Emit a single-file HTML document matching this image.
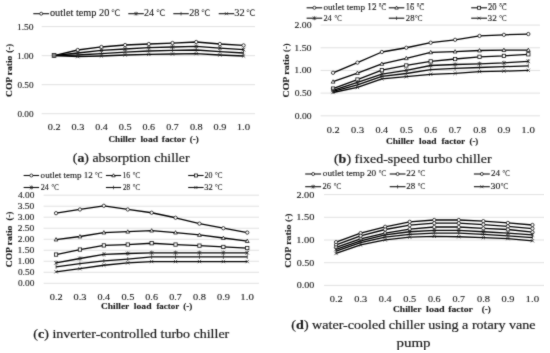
<!DOCTYPE html>
<html><head><meta charset="utf-8"><style>
html,body{margin:0;padding:0;background:#fff;}
body{width:550px;height:353px;overflow:hidden;}
svg{display:block;font-family:"Liberation Serif","Noto Serif CJK SC",serif;}
text{fill:#1a1a1a;stroke:#1a1a1a;stroke-width:0.12px;}
text.deg{fill:#222;stroke-width:0.0px;}
text.cap{stroke-width:0.2px;}
text.b{stroke-width:0.12px;}
</style></head><body>
<svg width="550" height="353" viewBox="0 0 550 353">
<defs><filter id="bl" x="0" y="0" width="100%" height="100%" color-interpolation-filters="sRGB"><feConvolveMatrix order="3" kernelMatrix="0.025 0.075 0.025 0.075 0.6 0.075 0.025 0.075 0.025" edgeMode="duplicate"/></filter></defs>
<rect width="550" height="353" fill="#fff"/>
<g filter="url(#bl)">
<line x1="41.70" y1="113.70" x2="255.00" y2="113.70" stroke="#d9d9d9" stroke-width="0.8"/>
<line x1="41.70" y1="84.67" x2="255.00" y2="84.67" stroke="#d9d9d9" stroke-width="0.8"/>
<line x1="41.70" y1="55.63" x2="255.00" y2="55.63" stroke="#d9d9d9" stroke-width="0.8"/>
<line x1="41.70" y1="26.60" x2="255.00" y2="26.60" stroke="#d9d9d9" stroke-width="0.8"/>
<polyline points="54.05,55.63 77.74,50.00 101.43,46.98 125.12,45.01 148.81,44.02 172.50,43.03 196.19,41.99 219.88,44.02 243.57,45.41" fill="none" stroke="#000" stroke-width="1.3" stroke-linejoin="round"/>
<polyline points="54.05,55.63 77.74,53.02 101.43,50.41 125.12,49.01 148.81,47.62 172.50,46.98 196.19,46.40 219.88,48.03 243.57,49.59" fill="none" stroke="#000" stroke-width="1.3" stroke-linejoin="round"/>
<polyline points="54.05,55.63 77.74,54.99 101.43,53.60 125.12,52.03 148.81,50.99 172.50,50.41 196.19,50.00 219.88,51.63 243.57,53.02" fill="none" stroke="#000" stroke-width="1.3" stroke-linejoin="round"/>
<polyline points="54.05,55.63 77.74,56.62 101.43,55.98 125.12,54.99 148.81,54.41 172.50,54.01 196.19,53.60 219.88,54.99 243.57,55.98" fill="none" stroke="#000" stroke-width="1.3" stroke-linejoin="round"/>
<circle cx="54.05" cy="55.63" r="1.65" fill="#fff" stroke="#111" stroke-width="0.8"/>
<circle cx="77.74" cy="50.00" r="1.65" fill="#fff" stroke="#111" stroke-width="0.8"/>
<circle cx="101.43" cy="46.98" r="1.65" fill="#fff" stroke="#111" stroke-width="0.8"/>
<circle cx="125.12" cy="45.01" r="1.65" fill="#fff" stroke="#111" stroke-width="0.8"/>
<circle cx="148.81" cy="44.02" r="1.65" fill="#fff" stroke="#111" stroke-width="0.8"/>
<circle cx="172.50" cy="43.03" r="1.65" fill="#fff" stroke="#111" stroke-width="0.8"/>
<circle cx="196.19" cy="41.99" r="1.65" fill="#fff" stroke="#111" stroke-width="0.8"/>
<circle cx="219.88" cy="44.02" r="1.65" fill="#fff" stroke="#111" stroke-width="0.8"/>
<circle cx="243.57" cy="45.41" r="1.65" fill="#fff" stroke="#111" stroke-width="0.8"/>
<path d="M52.23,53.82L55.86,57.45M55.86,53.82L52.23,57.45M54.05,53.46L54.05,57.81" stroke="#222" stroke-width="0.7" fill="none"/>
<path d="M75.92,51.21L79.55,54.84M79.55,51.21L75.92,54.84M77.74,50.84L77.74,55.20" stroke="#222" stroke-width="0.7" fill="none"/>
<path d="M99.62,48.59L103.25,52.22M103.25,48.59L99.62,52.22M101.43,48.23L101.43,52.59" stroke="#222" stroke-width="0.7" fill="none"/>
<path d="M123.31,47.20L126.94,50.83M126.94,47.20L123.31,50.83M125.12,46.84L125.12,51.19" stroke="#222" stroke-width="0.7" fill="none"/>
<path d="M147.00,45.81L150.62,49.44M150.62,45.81L147.00,49.44M148.81,45.44L148.81,49.80" stroke="#222" stroke-width="0.7" fill="none"/>
<path d="M170.69,45.17L174.31,48.80M174.31,45.17L170.69,48.80M172.50,44.80L172.50,49.16" stroke="#222" stroke-width="0.7" fill="none"/>
<path d="M194.38,44.59L198.00,48.22M198.00,44.59L194.38,48.22M196.19,44.22L196.19,48.58" stroke="#222" stroke-width="0.7" fill="none"/>
<path d="M218.06,46.21L221.69,49.84M221.69,46.21L218.06,49.84M219.88,45.85L219.88,50.20" stroke="#222" stroke-width="0.7" fill="none"/>
<path d="M241.75,47.78L245.38,51.41M245.38,47.78L241.75,51.41M243.57,47.42L243.57,51.77" stroke="#222" stroke-width="0.7" fill="none"/>
<path d="M54.05,53.65L54.05,57.61" stroke="#222" stroke-width="0.7" fill="none"/>
<path d="M77.74,53.01L77.74,56.97" stroke="#222" stroke-width="0.7" fill="none"/>
<path d="M101.43,51.62L101.43,55.58" stroke="#222" stroke-width="0.7" fill="none"/>
<path d="M125.12,50.05L125.12,54.01" stroke="#222" stroke-width="0.7" fill="none"/>
<path d="M148.81,49.01L148.81,52.97" stroke="#222" stroke-width="0.7" fill="none"/>
<path d="M172.50,48.43L172.50,52.39" stroke="#222" stroke-width="0.7" fill="none"/>
<path d="M196.19,48.02L196.19,51.98" stroke="#222" stroke-width="0.7" fill="none"/>
<path d="M219.88,49.65L219.88,53.61" stroke="#222" stroke-width="0.7" fill="none"/>
<path d="M243.57,51.04L243.57,55.00" stroke="#222" stroke-width="0.7" fill="none"/>
<path d="M52.40,53.98L55.70,57.28M55.70,53.98L52.40,57.28" stroke="#222" stroke-width="0.7" fill="none"/>
<path d="M76.09,54.97L79.39,58.27M79.39,54.97L76.09,58.27" stroke="#222" stroke-width="0.7" fill="none"/>
<path d="M99.78,54.33L103.08,57.63M103.08,54.33L99.78,57.63" stroke="#222" stroke-width="0.7" fill="none"/>
<path d="M123.47,53.34L126.77,56.64M126.77,53.34L123.47,56.64" stroke="#222" stroke-width="0.7" fill="none"/>
<path d="M147.16,52.76L150.46,56.06M150.46,52.76L147.16,56.06" stroke="#222" stroke-width="0.7" fill="none"/>
<path d="M170.85,52.36L174.15,55.66M174.15,52.36L170.85,55.66" stroke="#222" stroke-width="0.7" fill="none"/>
<path d="M194.54,51.95L197.84,55.25M197.84,51.95L194.54,55.25" stroke="#222" stroke-width="0.7" fill="none"/>
<path d="M218.23,53.34L221.53,56.64M221.53,53.34L218.23,56.64" stroke="#222" stroke-width="0.7" fill="none"/>
<path d="M241.92,54.33L245.22,57.63M245.22,54.33L241.92,57.63" stroke="#222" stroke-width="0.7" fill="none"/>
<rect x="52.15" y="53.45" width="3.8" height="3.8" fill="#8a8a8a" stroke="#222" stroke-width="0.7"/>
<line x1="33.30" y1="13.70" x2="49.10" y2="13.70" stroke="#111" stroke-width="1.1"/>
<circle cx="41.20" cy="13.70" r="1.50" fill="#fff" stroke="#111" stroke-width="0.8"/>
<line x1="128.30" y1="13.70" x2="143.80" y2="13.70" stroke="#111" stroke-width="1.1"/>
<path d="M134.40,12.05L137.70,15.35M137.70,12.05L134.40,15.35M136.05,11.72L136.05,15.68" stroke="#222" stroke-width="0.7" fill="none"/>
<line x1="173.30" y1="13.70" x2="188.80" y2="13.70" stroke="#111" stroke-width="1.1"/>
<path d="M181.05,11.90L181.05,15.50" stroke="#222" stroke-width="0.7" fill="none"/>
<line x1="218.70" y1="13.70" x2="234.20" y2="13.70" stroke="#111" stroke-width="1.1"/>
<path d="M224.95,12.20L227.95,15.20M227.95,12.20L224.95,15.20" stroke="#222" stroke-width="0.7" fill="none"/>
<line x1="320.60" y1="115.80" x2="540.00" y2="115.80" stroke="#d9d9d9" stroke-width="0.8"/>
<line x1="320.60" y1="93.12" x2="540.00" y2="93.12" stroke="#d9d9d9" stroke-width="0.8"/>
<line x1="320.60" y1="70.45" x2="540.00" y2="70.45" stroke="#d9d9d9" stroke-width="0.8"/>
<line x1="320.60" y1="47.78" x2="540.00" y2="47.78" stroke="#d9d9d9" stroke-width="0.8"/>
<line x1="320.60" y1="25.10" x2="540.00" y2="25.10" stroke="#d9d9d9" stroke-width="0.8"/>
<polyline points="333.05,72.79 357.46,62.60 381.87,52.00 406.28,47.75 430.69,42.72 455.10,39.80 479.51,35.91 503.92,34.82 528.33,34.04" fill="none" stroke="#000" stroke-width="1.3" stroke-linejoin="round"/>
<polyline points="333.05,81.71 357.46,73.02 381.87,63.88 406.28,58.26 430.69,52.32 455.10,51.59 479.51,50.49 503.92,50.03 528.33,50.03" fill="none" stroke="#000" stroke-width="1.3" stroke-linejoin="round"/>
<polyline points="333.05,88.59 357.46,79.52 381.87,70.22 406.28,65.46 430.69,61.38 455.10,59.02 479.51,56.80 503.92,55.89 528.33,54.31" fill="none" stroke="#000" stroke-width="1.3" stroke-linejoin="round"/>
<polyline points="333.05,90.49 357.46,82.29 381.87,74.08 406.28,70.31 430.69,65.51 455.10,64.51 479.51,63.78 503.92,62.88 528.33,61.29" fill="none" stroke="#000" stroke-width="1.3" stroke-linejoin="round"/>
<polyline points="333.05,91.31 357.46,84.78 381.87,76.35 406.28,73.49 430.69,69.54 455.10,68.41 479.51,67.50 503.92,66.69 528.33,65.82" fill="none" stroke="#000" stroke-width="1.3" stroke-linejoin="round"/>
<polyline points="333.05,92.49 357.46,87.41 381.87,78.84 406.28,76.71 430.69,74.30 455.10,73.40 479.51,71.58 503.92,71.13 528.33,70.36" fill="none" stroke="#000" stroke-width="1.3" stroke-linejoin="round"/>
<circle cx="333.05" cy="72.79" r="1.65" fill="#fff" stroke="#111" stroke-width="0.8"/>
<circle cx="357.46" cy="62.60" r="1.65" fill="#fff" stroke="#111" stroke-width="0.8"/>
<circle cx="381.87" cy="52.00" r="1.65" fill="#fff" stroke="#111" stroke-width="0.8"/>
<circle cx="406.28" cy="47.75" r="1.65" fill="#fff" stroke="#111" stroke-width="0.8"/>
<circle cx="430.69" cy="42.72" r="1.65" fill="#fff" stroke="#111" stroke-width="0.8"/>
<circle cx="455.10" cy="39.80" r="1.65" fill="#fff" stroke="#111" stroke-width="0.8"/>
<circle cx="479.51" cy="35.91" r="1.65" fill="#fff" stroke="#111" stroke-width="0.8"/>
<circle cx="503.92" cy="34.82" r="1.65" fill="#fff" stroke="#111" stroke-width="0.8"/>
<circle cx="528.33" cy="34.04" r="1.65" fill="#fff" stroke="#111" stroke-width="0.8"/>
<path d="M333.05,79.81L334.95,83.13L331.15,83.13Z" fill="#fff" stroke="#111" stroke-width="0.8"/>
<path d="M357.46,71.12L359.36,74.44L355.56,74.44Z" fill="#fff" stroke="#111" stroke-width="0.8"/>
<path d="M381.87,61.99L383.77,65.31L379.97,65.31Z" fill="#fff" stroke="#111" stroke-width="0.8"/>
<path d="M406.28,56.36L408.18,59.68L404.38,59.68Z" fill="#fff" stroke="#111" stroke-width="0.8"/>
<path d="M430.69,50.42L432.59,53.74L428.79,53.74Z" fill="#fff" stroke="#111" stroke-width="0.8"/>
<path d="M455.10,49.69L457.00,53.01L453.20,53.01Z" fill="#fff" stroke="#111" stroke-width="0.8"/>
<path d="M479.51,48.59L481.41,51.91L477.61,51.91Z" fill="#fff" stroke="#111" stroke-width="0.8"/>
<path d="M503.92,48.14L505.82,51.46L502.02,51.46Z" fill="#fff" stroke="#111" stroke-width="0.8"/>
<path d="M528.33,48.14L530.23,51.46L526.43,51.46Z" fill="#fff" stroke="#111" stroke-width="0.8"/>
<rect x="331.40" y="86.94" width="3.30" height="3.30" fill="#fff" stroke="#111" stroke-width="0.8"/>
<rect x="355.81" y="77.87" width="3.30" height="3.30" fill="#fff" stroke="#111" stroke-width="0.8"/>
<rect x="380.22" y="68.57" width="3.30" height="3.30" fill="#fff" stroke="#111" stroke-width="0.8"/>
<rect x="404.63" y="63.81" width="3.30" height="3.30" fill="#fff" stroke="#111" stroke-width="0.8"/>
<rect x="429.04" y="59.73" width="3.30" height="3.30" fill="#fff" stroke="#111" stroke-width="0.8"/>
<rect x="453.45" y="57.37" width="3.30" height="3.30" fill="#fff" stroke="#111" stroke-width="0.8"/>
<rect x="477.86" y="55.15" width="3.30" height="3.30" fill="#fff" stroke="#111" stroke-width="0.8"/>
<rect x="502.27" y="54.24" width="3.30" height="3.30" fill="#fff" stroke="#111" stroke-width="0.8"/>
<rect x="526.68" y="52.66" width="3.30" height="3.30" fill="#fff" stroke="#111" stroke-width="0.8"/>
<path d="M331.24,88.68L334.87,92.31M334.87,88.68L331.24,92.31M333.05,88.32L333.05,92.67" stroke="#222" stroke-width="0.7" fill="none"/>
<path d="M355.65,80.47L359.28,84.10M359.28,80.47L355.65,84.10M357.46,80.11L357.46,84.46" stroke="#222" stroke-width="0.7" fill="none"/>
<path d="M380.06,72.26L383.69,75.89M383.69,72.26L380.06,75.89M381.87,71.90L381.87,76.26" stroke="#222" stroke-width="0.7" fill="none"/>
<path d="M404.47,68.50L408.10,72.13M408.10,68.50L404.47,72.13M406.28,68.14L406.28,72.49" stroke="#222" stroke-width="0.7" fill="none"/>
<path d="M428.88,63.69L432.50,67.32M432.50,63.69L428.88,67.32M430.69,63.33L430.69,67.68" stroke="#222" stroke-width="0.7" fill="none"/>
<path d="M453.29,62.69L456.92,66.32M456.92,62.69L453.29,66.32M455.10,62.33L455.10,66.69" stroke="#222" stroke-width="0.7" fill="none"/>
<path d="M477.69,61.97L481.32,65.60M481.32,61.97L477.69,65.60M479.51,61.61L479.51,65.96" stroke="#222" stroke-width="0.7" fill="none"/>
<path d="M502.11,61.06L505.74,64.69M505.74,61.06L502.11,64.69M503.92,60.70L503.92,65.05" stroke="#222" stroke-width="0.7" fill="none"/>
<path d="M526.51,59.47L530.15,63.10M530.15,59.47L526.51,63.10M528.33,59.11L528.33,63.47" stroke="#222" stroke-width="0.7" fill="none"/>
<path d="M333.05,89.33L333.05,93.29" stroke="#222" stroke-width="0.7" fill="none"/>
<path d="M357.46,82.80L357.46,86.76" stroke="#222" stroke-width="0.7" fill="none"/>
<path d="M381.87,74.37L381.87,78.33" stroke="#222" stroke-width="0.7" fill="none"/>
<path d="M406.28,71.51L406.28,75.47" stroke="#222" stroke-width="0.7" fill="none"/>
<path d="M430.69,67.56L430.69,71.52" stroke="#222" stroke-width="0.7" fill="none"/>
<path d="M455.10,66.43L455.10,70.39" stroke="#222" stroke-width="0.7" fill="none"/>
<path d="M479.51,65.52L479.51,69.48" stroke="#222" stroke-width="0.7" fill="none"/>
<path d="M503.92,64.71L503.92,68.67" stroke="#222" stroke-width="0.7" fill="none"/>
<path d="M528.33,63.84L528.33,67.80" stroke="#222" stroke-width="0.7" fill="none"/>
<path d="M331.40,90.84L334.70,94.14M334.70,90.84L331.40,94.14" stroke="#222" stroke-width="0.7" fill="none"/>
<path d="M355.81,85.76L359.11,89.06M359.11,85.76L355.81,89.06" stroke="#222" stroke-width="0.7" fill="none"/>
<path d="M380.22,77.19L383.52,80.49M383.52,77.19L380.22,80.49" stroke="#222" stroke-width="0.7" fill="none"/>
<path d="M404.63,75.06L407.93,78.36M407.93,75.06L404.63,78.36" stroke="#222" stroke-width="0.7" fill="none"/>
<path d="M429.04,72.65L432.34,75.95M432.34,72.65L429.04,75.95" stroke="#222" stroke-width="0.7" fill="none"/>
<path d="M453.45,71.75L456.75,75.05M456.75,71.75L453.45,75.05" stroke="#222" stroke-width="0.7" fill="none"/>
<path d="M477.86,69.93L481.16,73.23M481.16,69.93L477.86,73.23" stroke="#222" stroke-width="0.7" fill="none"/>
<path d="M502.27,69.48L505.57,72.78M505.57,69.48L502.27,72.78" stroke="#222" stroke-width="0.7" fill="none"/>
<path d="M526.68,68.71L529.98,72.01M529.98,68.71L526.68,72.01" stroke="#222" stroke-width="0.7" fill="none"/>
<line x1="306.60" y1="7.80" x2="322.20" y2="7.80" stroke="#111" stroke-width="1.1"/>
<circle cx="314.40" cy="7.80" r="1.50" fill="#fff" stroke="#111" stroke-width="0.8"/>
<line x1="388.80" y1="7.80" x2="404.30" y2="7.80" stroke="#111" stroke-width="1.1"/>
<path d="M396.55,6.08L398.28,9.09L394.82,9.09Z" fill="#fff" stroke="#111" stroke-width="0.8"/>
<line x1="471.20" y1="7.80" x2="487.00" y2="7.80" stroke="#111" stroke-width="1.1"/>
<rect x="477.60" y="6.30" width="3.00" height="3.00" fill="#fff" stroke="#111" stroke-width="0.8"/>
<line x1="306.60" y1="18.20" x2="322.20" y2="18.20" stroke="#111" stroke-width="1.1"/>
<path d="M312.75,16.55L316.05,19.85M316.05,16.55L312.75,19.85M314.40,16.22L314.40,20.18" stroke="#222" stroke-width="0.7" fill="none"/>
<line x1="388.80" y1="18.20" x2="404.30" y2="18.20" stroke="#111" stroke-width="1.1"/>
<path d="M396.55,16.40L396.55,20.00" stroke="#222" stroke-width="0.7" fill="none"/>
<line x1="471.20" y1="18.20" x2="487.00" y2="18.20" stroke="#111" stroke-width="1.1"/>
<path d="M477.60,16.70L480.60,19.70M480.60,16.70L477.60,19.70" stroke="#222" stroke-width="0.7" fill="none"/>
<line x1="43.60" y1="283.30" x2="259.00" y2="283.30" stroke="#d9d9d9" stroke-width="0.8"/>
<line x1="43.60" y1="272.29" x2="259.00" y2="272.29" stroke="#d9d9d9" stroke-width="0.8"/>
<line x1="43.60" y1="261.27" x2="259.00" y2="261.27" stroke="#d9d9d9" stroke-width="0.8"/>
<line x1="43.60" y1="250.26" x2="259.00" y2="250.26" stroke="#d9d9d9" stroke-width="0.8"/>
<line x1="43.60" y1="239.25" x2="259.00" y2="239.25" stroke="#d9d9d9" stroke-width="0.8"/>
<line x1="43.60" y1="228.24" x2="259.00" y2="228.24" stroke="#d9d9d9" stroke-width="0.8"/>
<line x1="43.60" y1="217.22" x2="259.00" y2="217.22" stroke="#d9d9d9" stroke-width="0.8"/>
<line x1="43.60" y1="206.21" x2="259.00" y2="206.21" stroke="#d9d9d9" stroke-width="0.8"/>
<line x1="43.60" y1="195.20" x2="259.00" y2="195.20" stroke="#d9d9d9" stroke-width="0.8"/>
<polyline points="56.05,213.19 79.95,209.48 103.85,205.78 127.75,209.48 151.65,212.75 175.55,217.76 199.45,223.64 223.35,228.22 247.25,232.57" fill="none" stroke="#000" stroke-width="1.3" stroke-linejoin="round"/>
<polyline points="56.05,239.54 79.95,236.49 103.85,232.57 127.75,231.70 151.65,230.61 175.55,232.57 199.45,234.97 223.35,238.01 247.25,241.06" fill="none" stroke="#000" stroke-width="1.3" stroke-linejoin="round"/>
<polyline points="56.05,254.57 79.95,249.56 103.85,245.42 127.75,244.55 151.65,243.24 175.55,244.55 199.45,245.64 223.35,246.95 247.25,248.03" fill="none" stroke="#000" stroke-width="1.3" stroke-linejoin="round"/>
<polyline points="56.05,262.85 79.95,258.49 103.85,254.35 127.75,253.48 151.65,252.83 175.55,252.83 199.45,252.83 223.35,252.83 247.25,252.83" fill="none" stroke="#000" stroke-width="1.3" stroke-linejoin="round"/>
<polyline points="56.05,266.77 79.95,263.72 103.85,260.89 127.75,259.07 151.65,256.96 175.55,256.96 199.45,256.96 223.35,256.96 247.25,256.96" fill="none" stroke="#000" stroke-width="1.3" stroke-linejoin="round"/>
<polyline points="56.05,271.77 79.95,268.73 103.85,265.24 127.75,262.85 151.65,261.54 175.55,261.54 199.45,261.54 223.35,261.54 247.25,261.54" fill="none" stroke="#000" stroke-width="1.3" stroke-linejoin="round"/>
<circle cx="56.05" cy="213.19" r="1.65" fill="#fff" stroke="#111" stroke-width="0.8"/>
<circle cx="79.95" cy="209.48" r="1.65" fill="#fff" stroke="#111" stroke-width="0.8"/>
<circle cx="103.85" cy="205.78" r="1.65" fill="#fff" stroke="#111" stroke-width="0.8"/>
<circle cx="127.75" cy="209.48" r="1.65" fill="#fff" stroke="#111" stroke-width="0.8"/>
<circle cx="151.65" cy="212.75" r="1.65" fill="#fff" stroke="#111" stroke-width="0.8"/>
<circle cx="175.55" cy="217.76" r="1.65" fill="#fff" stroke="#111" stroke-width="0.8"/>
<circle cx="199.45" cy="223.64" r="1.65" fill="#fff" stroke="#111" stroke-width="0.8"/>
<circle cx="223.35" cy="228.22" r="1.65" fill="#fff" stroke="#111" stroke-width="0.8"/>
<circle cx="247.25" cy="232.57" r="1.65" fill="#fff" stroke="#111" stroke-width="0.8"/>
<path d="M56.05,237.64L57.95,240.96L54.15,240.96Z" fill="#fff" stroke="#111" stroke-width="0.8"/>
<path d="M79.95,234.59L81.85,237.91L78.05,237.91Z" fill="#fff" stroke="#111" stroke-width="0.8"/>
<path d="M103.85,230.67L105.75,233.99L101.95,233.99Z" fill="#fff" stroke="#111" stroke-width="0.8"/>
<path d="M127.75,229.80L129.65,233.12L125.85,233.12Z" fill="#fff" stroke="#111" stroke-width="0.8"/>
<path d="M151.65,228.71L153.55,232.03L149.75,232.03Z" fill="#fff" stroke="#111" stroke-width="0.8"/>
<path d="M175.55,230.67L177.45,233.99L173.65,233.99Z" fill="#fff" stroke="#111" stroke-width="0.8"/>
<path d="M199.45,233.07L201.35,236.39L197.55,236.39Z" fill="#fff" stroke="#111" stroke-width="0.8"/>
<path d="M223.35,236.12L225.25,239.44L221.45,239.44Z" fill="#fff" stroke="#111" stroke-width="0.8"/>
<path d="M247.25,239.17L249.15,242.49L245.35,242.49Z" fill="#fff" stroke="#111" stroke-width="0.8"/>
<rect x="54.40" y="252.92" width="3.30" height="3.30" fill="#fff" stroke="#111" stroke-width="0.8"/>
<rect x="78.30" y="247.91" width="3.30" height="3.30" fill="#fff" stroke="#111" stroke-width="0.8"/>
<rect x="102.20" y="243.77" width="3.30" height="3.30" fill="#fff" stroke="#111" stroke-width="0.8"/>
<rect x="126.10" y="242.90" width="3.30" height="3.30" fill="#fff" stroke="#111" stroke-width="0.8"/>
<rect x="150.00" y="241.59" width="3.30" height="3.30" fill="#fff" stroke="#111" stroke-width="0.8"/>
<rect x="173.90" y="242.90" width="3.30" height="3.30" fill="#fff" stroke="#111" stroke-width="0.8"/>
<rect x="197.80" y="243.99" width="3.30" height="3.30" fill="#fff" stroke="#111" stroke-width="0.8"/>
<rect x="221.70" y="245.30" width="3.30" height="3.30" fill="#fff" stroke="#111" stroke-width="0.8"/>
<rect x="245.60" y="246.38" width="3.30" height="3.30" fill="#fff" stroke="#111" stroke-width="0.8"/>
<path d="M54.23,261.03L57.86,264.66M57.86,261.03L54.23,264.66M56.05,260.67L56.05,265.02" stroke="#222" stroke-width="0.7" fill="none"/>
<path d="M78.13,256.67L81.76,260.30M81.76,256.67L78.13,260.30M79.95,256.31L79.95,260.67" stroke="#222" stroke-width="0.7" fill="none"/>
<path d="M102.03,252.54L105.66,256.17M105.66,252.54L102.03,256.17M103.85,252.17L103.85,256.53" stroke="#222" stroke-width="0.7" fill="none"/>
<path d="M125.93,251.66L129.56,255.29M129.56,251.66L125.93,255.29M127.75,251.30L127.75,255.66" stroke="#222" stroke-width="0.7" fill="none"/>
<path d="M149.83,251.01L153.46,254.64M153.46,251.01L149.83,254.64M151.65,250.65L151.65,255.00" stroke="#222" stroke-width="0.7" fill="none"/>
<path d="M173.74,251.01L177.37,254.64M177.37,251.01L173.74,254.64M175.55,250.65L175.55,255.00" stroke="#222" stroke-width="0.7" fill="none"/>
<path d="M197.63,251.01L201.26,254.64M201.26,251.01L197.63,254.64M199.45,250.65L199.45,255.00" stroke="#222" stroke-width="0.7" fill="none"/>
<path d="M221.53,251.01L225.16,254.64M225.16,251.01L221.53,254.64M223.35,250.65L223.35,255.00" stroke="#222" stroke-width="0.7" fill="none"/>
<path d="M245.44,251.01L249.06,254.64M249.06,251.01L245.44,254.64M247.25,250.65L247.25,255.00" stroke="#222" stroke-width="0.7" fill="none"/>
<path d="M56.05,264.79L56.05,268.75" stroke="#222" stroke-width="0.7" fill="none"/>
<path d="M79.95,261.74L79.95,265.70" stroke="#222" stroke-width="0.7" fill="none"/>
<path d="M103.85,258.91L103.85,262.87" stroke="#222" stroke-width="0.7" fill="none"/>
<path d="M127.75,257.09L127.75,261.05" stroke="#222" stroke-width="0.7" fill="none"/>
<path d="M151.65,254.98L151.65,258.94" stroke="#222" stroke-width="0.7" fill="none"/>
<path d="M175.55,254.98L175.55,258.94" stroke="#222" stroke-width="0.7" fill="none"/>
<path d="M199.45,254.98L199.45,258.94" stroke="#222" stroke-width="0.7" fill="none"/>
<path d="M223.35,254.98L223.35,258.94" stroke="#222" stroke-width="0.7" fill="none"/>
<path d="M247.25,254.98L247.25,258.94" stroke="#222" stroke-width="0.7" fill="none"/>
<path d="M54.40,270.12L57.70,273.42M57.70,270.12L54.40,273.42" stroke="#222" stroke-width="0.7" fill="none"/>
<path d="M78.30,267.08L81.60,270.38M81.60,267.08L78.30,270.38" stroke="#222" stroke-width="0.7" fill="none"/>
<path d="M102.20,263.59L105.50,266.89M105.50,263.59L102.20,266.89" stroke="#222" stroke-width="0.7" fill="none"/>
<path d="M126.10,261.20L129.40,264.50M129.40,261.20L126.10,264.50" stroke="#222" stroke-width="0.7" fill="none"/>
<path d="M150.00,259.89L153.30,263.19M153.30,259.89L150.00,263.19" stroke="#222" stroke-width="0.7" fill="none"/>
<path d="M173.90,259.89L177.20,263.19M177.20,259.89L173.90,263.19" stroke="#222" stroke-width="0.7" fill="none"/>
<path d="M197.80,259.89L201.10,263.19M201.10,259.89L197.80,263.19" stroke="#222" stroke-width="0.7" fill="none"/>
<path d="M221.70,259.89L225.00,263.19M225.00,259.89L221.70,263.19" stroke="#222" stroke-width="0.7" fill="none"/>
<path d="M245.60,259.89L248.90,263.19M248.90,259.89L245.60,263.19" stroke="#222" stroke-width="0.7" fill="none"/>
<line x1="23.60" y1="175.50" x2="39.10" y2="175.50" stroke="#111" stroke-width="1.1"/>
<circle cx="31.35" cy="175.50" r="1.50" fill="#fff" stroke="#111" stroke-width="0.8"/>
<line x1="105.90" y1="175.50" x2="121.10" y2="175.50" stroke="#111" stroke-width="1.1"/>
<path d="M113.50,173.78L115.22,176.79L111.78,176.79Z" fill="#fff" stroke="#111" stroke-width="0.8"/>
<line x1="188.20" y1="175.50" x2="203.60" y2="175.50" stroke="#111" stroke-width="1.1"/>
<rect x="194.40" y="174.00" width="3.00" height="3.00" fill="#fff" stroke="#111" stroke-width="0.8"/>
<line x1="23.60" y1="187.50" x2="39.10" y2="187.50" stroke="#111" stroke-width="1.1"/>
<path d="M29.70,185.85L33.00,189.15M33.00,185.85L29.70,189.15M31.35,185.52L31.35,189.48" stroke="#222" stroke-width="0.7" fill="none"/>
<line x1="105.90" y1="187.50" x2="121.10" y2="187.50" stroke="#111" stroke-width="1.1"/>
<path d="M113.50,185.70L113.50,189.30" stroke="#222" stroke-width="0.7" fill="none"/>
<line x1="188.20" y1="187.50" x2="203.60" y2="187.50" stroke="#111" stroke-width="1.1"/>
<path d="M194.40,186.00L197.40,189.00M197.40,186.00L194.40,189.00" stroke="#222" stroke-width="0.7" fill="none"/>
<line x1="324.00" y1="285.40" x2="544.00" y2="285.40" stroke="#d9d9d9" stroke-width="0.8"/>
<line x1="324.00" y1="262.70" x2="544.00" y2="262.70" stroke="#d9d9d9" stroke-width="0.8"/>
<line x1="324.00" y1="240.00" x2="544.00" y2="240.00" stroke="#d9d9d9" stroke-width="0.8"/>
<line x1="324.00" y1="217.30" x2="544.00" y2="217.30" stroke="#d9d9d9" stroke-width="0.8"/>
<line x1="324.00" y1="194.60" x2="544.00" y2="194.60" stroke="#d9d9d9" stroke-width="0.8"/>
<polyline points="336.05,242.16 360.60,233.12 385.15,226.79 409.70,221.82 434.25,220.01 458.80,220.01 483.35,221.14 507.90,222.94 532.45,224.98" fill="none" stroke="#000" stroke-width="1.3" stroke-linejoin="round"/>
<polyline points="336.05,244.87 360.60,235.83 385.15,229.50 409.70,225.20 434.25,223.17 458.80,223.17 483.35,224.53 507.90,226.33 532.45,228.60" fill="none" stroke="#000" stroke-width="1.3" stroke-linejoin="round"/>
<polyline points="336.05,247.35 360.60,238.99 385.15,233.12 409.70,229.05 434.25,227.02 458.80,227.02 483.35,228.37 507.90,229.50 532.45,232.21" fill="none" stroke="#000" stroke-width="1.3" stroke-linejoin="round"/>
<polyline points="336.05,249.39 360.60,240.80 385.15,234.92 409.70,231.76 434.25,230.40 458.80,230.40 483.35,231.76 507.90,233.12 532.45,234.92" fill="none" stroke="#000" stroke-width="1.3" stroke-linejoin="round"/>
<polyline points="336.05,251.20 360.60,242.61 385.15,237.19 409.70,234.47 434.25,233.12 458.80,233.12 483.35,234.47 507.90,235.83 532.45,237.63" fill="none" stroke="#000" stroke-width="1.3" stroke-linejoin="round"/>
<polyline points="336.05,253.46 360.60,244.87 385.15,239.90 409.70,237.19 434.25,236.28 458.80,236.73 483.35,237.63 507.90,238.54 532.45,240.80" fill="none" stroke="#000" stroke-width="1.3" stroke-linejoin="round"/>
<circle cx="336.05" cy="242.16" r="1.65" fill="#fff" stroke="#111" stroke-width="0.8"/>
<circle cx="360.60" cy="233.12" r="1.65" fill="#fff" stroke="#111" stroke-width="0.8"/>
<circle cx="385.15" cy="226.79" r="1.65" fill="#fff" stroke="#111" stroke-width="0.8"/>
<circle cx="409.70" cy="221.82" r="1.65" fill="#fff" stroke="#111" stroke-width="0.8"/>
<circle cx="434.25" cy="220.01" r="1.65" fill="#fff" stroke="#111" stroke-width="0.8"/>
<circle cx="458.80" cy="220.01" r="1.65" fill="#fff" stroke="#111" stroke-width="0.8"/>
<circle cx="483.35" cy="221.14" r="1.65" fill="#fff" stroke="#111" stroke-width="0.8"/>
<circle cx="507.90" cy="222.94" r="1.65" fill="#fff" stroke="#111" stroke-width="0.8"/>
<circle cx="532.45" cy="224.98" r="1.65" fill="#fff" stroke="#111" stroke-width="0.8"/>
<circle cx="336.05" cy="244.87" r="1.65" fill="#fff" stroke="#111" stroke-width="0.8"/>
<circle cx="360.60" cy="235.83" r="1.65" fill="#fff" stroke="#111" stroke-width="0.8"/>
<circle cx="385.15" cy="229.50" r="1.65" fill="#fff" stroke="#111" stroke-width="0.8"/>
<circle cx="409.70" cy="225.20" r="1.65" fill="#fff" stroke="#111" stroke-width="0.8"/>
<circle cx="434.25" cy="223.17" r="1.65" fill="#fff" stroke="#111" stroke-width="0.8"/>
<circle cx="458.80" cy="223.17" r="1.65" fill="#fff" stroke="#111" stroke-width="0.8"/>
<circle cx="483.35" cy="224.53" r="1.65" fill="#fff" stroke="#111" stroke-width="0.8"/>
<circle cx="507.90" cy="226.33" r="1.65" fill="#fff" stroke="#111" stroke-width="0.8"/>
<circle cx="532.45" cy="228.60" r="1.65" fill="#fff" stroke="#111" stroke-width="0.8"/>
<circle cx="336.05" cy="247.35" r="1.65" fill="#fff" stroke="#111" stroke-width="0.8"/>
<circle cx="360.60" cy="238.99" r="1.65" fill="#fff" stroke="#111" stroke-width="0.8"/>
<circle cx="385.15" cy="233.12" r="1.65" fill="#fff" stroke="#111" stroke-width="0.8"/>
<circle cx="409.70" cy="229.05" r="1.65" fill="#fff" stroke="#111" stroke-width="0.8"/>
<circle cx="434.25" cy="227.02" r="1.65" fill="#fff" stroke="#111" stroke-width="0.8"/>
<circle cx="458.80" cy="227.02" r="1.65" fill="#fff" stroke="#111" stroke-width="0.8"/>
<circle cx="483.35" cy="228.37" r="1.65" fill="#fff" stroke="#111" stroke-width="0.8"/>
<circle cx="507.90" cy="229.50" r="1.65" fill="#fff" stroke="#111" stroke-width="0.8"/>
<circle cx="532.45" cy="232.21" r="1.65" fill="#fff" stroke="#111" stroke-width="0.8"/>
<path d="M334.24,247.57L337.87,251.20M337.87,247.57L334.24,251.20M336.05,247.21L336.05,251.57" stroke="#222" stroke-width="0.7" fill="none"/>
<path d="M358.79,238.98L362.42,242.61M362.42,238.98L358.79,242.61M360.60,238.62L360.60,242.98" stroke="#222" stroke-width="0.7" fill="none"/>
<path d="M383.34,233.11L386.97,236.74M386.97,233.11L383.34,236.74M385.15,232.75L385.15,237.10" stroke="#222" stroke-width="0.7" fill="none"/>
<path d="M407.89,229.94L411.52,233.57M411.52,229.94L407.89,233.57M409.70,229.58L409.70,233.94" stroke="#222" stroke-width="0.7" fill="none"/>
<path d="M432.44,228.59L436.06,232.22M436.06,228.59L432.44,232.22M434.25,228.22L434.25,232.58" stroke="#222" stroke-width="0.7" fill="none"/>
<path d="M456.99,228.59L460.62,232.22M460.62,228.59L456.99,232.22M458.80,228.22L458.80,232.58" stroke="#222" stroke-width="0.7" fill="none"/>
<path d="M481.54,229.94L485.17,233.57M485.17,229.94L481.54,233.57M483.35,229.58L483.35,233.94" stroke="#222" stroke-width="0.7" fill="none"/>
<path d="M506.08,231.30L509.71,234.93M509.71,231.30L506.08,234.93M507.90,230.94L507.90,235.30" stroke="#222" stroke-width="0.7" fill="none"/>
<path d="M530.63,233.11L534.27,236.74M534.27,233.11L530.63,236.74M532.45,232.75L532.45,237.10" stroke="#222" stroke-width="0.7" fill="none"/>
<path d="M336.05,249.22L336.05,253.18" stroke="#222" stroke-width="0.7" fill="none"/>
<path d="M360.60,240.63L360.60,244.59" stroke="#222" stroke-width="0.7" fill="none"/>
<path d="M385.15,235.21L385.15,239.17" stroke="#222" stroke-width="0.7" fill="none"/>
<path d="M409.70,232.49L409.70,236.45" stroke="#222" stroke-width="0.7" fill="none"/>
<path d="M434.25,231.14L434.25,235.10" stroke="#222" stroke-width="0.7" fill="none"/>
<path d="M458.80,231.14L458.80,235.10" stroke="#222" stroke-width="0.7" fill="none"/>
<path d="M483.35,232.49L483.35,236.45" stroke="#222" stroke-width="0.7" fill="none"/>
<path d="M507.90,233.85L507.90,237.81" stroke="#222" stroke-width="0.7" fill="none"/>
<path d="M532.45,235.65L532.45,239.61" stroke="#222" stroke-width="0.7" fill="none"/>
<path d="M334.40,251.81L337.70,255.11M337.70,251.81L334.40,255.11" stroke="#222" stroke-width="0.7" fill="none"/>
<path d="M358.95,243.22L362.25,246.52M362.25,243.22L358.95,246.52" stroke="#222" stroke-width="0.7" fill="none"/>
<path d="M383.50,238.25L386.80,241.55M386.80,238.25L383.50,241.55" stroke="#222" stroke-width="0.7" fill="none"/>
<path d="M408.05,235.54L411.35,238.84M411.35,235.54L408.05,238.84" stroke="#222" stroke-width="0.7" fill="none"/>
<path d="M432.60,234.63L435.90,237.93M435.90,234.63L432.60,237.93" stroke="#222" stroke-width="0.7" fill="none"/>
<path d="M457.15,235.08L460.45,238.38M460.45,235.08L457.15,238.38" stroke="#222" stroke-width="0.7" fill="none"/>
<path d="M481.70,235.98L485.00,239.28M485.00,235.98L481.70,239.28" stroke="#222" stroke-width="0.7" fill="none"/>
<path d="M506.25,236.89L509.55,240.19M509.55,236.89L506.25,240.19" stroke="#222" stroke-width="0.7" fill="none"/>
<path d="M530.80,239.15L534.10,242.45M534.10,239.15L530.80,242.45" stroke="#222" stroke-width="0.7" fill="none"/>
<line x1="305.20" y1="174.00" x2="321.10" y2="174.00" stroke="#111" stroke-width="1.1"/>
<circle cx="313.15" cy="174.00" r="1.50" fill="#fff" stroke="#111" stroke-width="0.8"/>
<line x1="389.70" y1="174.00" x2="405.50" y2="174.00" stroke="#111" stroke-width="1.1"/>
<circle cx="397.60" cy="174.00" r="1.50" fill="#fff" stroke="#111" stroke-width="0.8"/>
<line x1="473.90" y1="174.00" x2="489.80" y2="174.00" stroke="#111" stroke-width="1.1"/>
<circle cx="481.85" cy="174.00" r="1.50" fill="#fff" stroke="#111" stroke-width="0.8"/>
<line x1="305.20" y1="186.70" x2="321.10" y2="186.70" stroke="#111" stroke-width="1.1"/>
<path d="M311.50,185.05L314.80,188.35M314.80,185.05L311.50,188.35M313.15,184.72L313.15,188.68" stroke="#222" stroke-width="0.7" fill="none"/>
<line x1="389.70" y1="186.70" x2="405.50" y2="186.70" stroke="#111" stroke-width="1.1"/>
<path d="M397.60,184.90L397.60,188.50" stroke="#222" stroke-width="0.7" fill="none"/>
<line x1="473.90" y1="186.70" x2="489.80" y2="186.70" stroke="#111" stroke-width="1.1"/>
<path d="M480.35,185.20L483.35,188.20M483.35,185.20L480.35,188.20" stroke="#222" stroke-width="0.7" fill="none"/>
<text x="17.45" y="116.60" font-size="9.2" textLength="16.18" lengthAdjust="spacingAndGlyphs">0.00</text>
<text x="17.45" y="87.57" font-size="9.2" textLength="16.18" lengthAdjust="spacingAndGlyphs">0.50</text>
<text x="16.92" y="58.53" font-size="9.2" textLength="16.72" lengthAdjust="spacingAndGlyphs">1.00</text>
<text x="16.92" y="29.50" font-size="9.2" textLength="16.72" lengthAdjust="spacingAndGlyphs">1.50</text>
<text x="47.77" y="130.00" font-size="9.2" textLength="12.82" lengthAdjust="spacingAndGlyphs">0.2</text>
<text x="71.46" y="130.00" font-size="9.2" textLength="12.82" lengthAdjust="spacingAndGlyphs">0.3</text>
<text x="95.16" y="130.00" font-size="9.2" textLength="12.53" lengthAdjust="spacingAndGlyphs">0.4</text>
<text x="118.84" y="130.00" font-size="9.2" textLength="12.82" lengthAdjust="spacingAndGlyphs">0.5</text>
<text x="142.54" y="130.00" font-size="9.2" textLength="12.53" lengthAdjust="spacingAndGlyphs">0.6</text>
<text x="166.23" y="130.00" font-size="9.2" textLength="12.53" lengthAdjust="spacingAndGlyphs">0.7</text>
<text x="189.91" y="130.00" font-size="9.2" textLength="12.82" lengthAdjust="spacingAndGlyphs">0.8</text>
<text x="213.60" y="130.00" font-size="9.2" textLength="12.82" lengthAdjust="spacingAndGlyphs">0.9</text>
<text x="236.69" y="130.00" font-size="9.2" textLength="13.45" lengthAdjust="spacingAndGlyphs">1.0</text>
<text x="49.93" y="15.90" font-size="9.4" textLength="59.44" lengthAdjust="spacingAndGlyphs">outlet temp 20</text>
<text class="deg" x="110.65" y="15.90" font-size="8.93" textLength="9.56" lengthAdjust="spacingAndGlyphs"><tspan font-family="DejaVu Sans">℃</tspan></text>
<text x="144.06" y="15.90" font-size="9.4" textLength="10.07" lengthAdjust="spacingAndGlyphs">24</text>
<text class="deg" x="155.75" y="15.90" font-size="8.93" textLength="9.56" lengthAdjust="spacingAndGlyphs"><tspan font-family="DejaVu Sans">℃</tspan></text>
<text x="189.26" y="15.90" font-size="9.4" textLength="10.15" lengthAdjust="spacingAndGlyphs">28</text>
<text class="deg" x="200.75" y="15.90" font-size="8.93" textLength="9.56" lengthAdjust="spacingAndGlyphs"><tspan font-family="DejaVu Sans">℃</tspan></text>
<text x="234.34" y="15.90" font-size="9.4" textLength="10.45" lengthAdjust="spacingAndGlyphs">32</text>
<text class="deg" x="245.85" y="15.90" font-size="8.93" textLength="9.56" lengthAdjust="spacingAndGlyphs"><tspan font-family="DejaVu Sans">℃</tspan></text>
<text class="b" x="108.48" y="141.80" font-size="8.8" font-weight="bold" textLength="27.36" lengthAdjust="spacingAndGlyphs">Chiller</text>
<text class="b" x="140.43" y="141.80" font-size="8.8" font-weight="bold" textLength="17.73" lengthAdjust="spacingAndGlyphs">load</text>
<text class="b" x="161.80" y="141.80" font-size="8.8" font-weight="bold" textLength="23.83" lengthAdjust="spacingAndGlyphs">factor</text>
<text class="b" x="189.89" y="141.80" font-size="8.8" font-weight="bold" textLength="8.91" lengthAdjust="spacingAndGlyphs">(-)</text>
<text class="b" x="0" y="0" font-size="8.8" font-weight="bold" textLength="41.22" lengthAdjust="spacingAndGlyphs" transform="translate(11.50,96.94) rotate(-90)">COP ratio</text>
<text class="b" x="0" y="0" font-size="8.8" font-weight="bold" textLength="8.80" lengthAdjust="spacingAndGlyphs" transform="translate(11.50,52.70) rotate(-90)">(-)</text>
<text class="cap" x="72.78" y="162.40" font-size="13.2" textLength="116.82" lengthAdjust="spacingAndGlyphs">(<tspan font-weight="bold">a</tspan>) absorption chiller</text>
<text x="294.74" y="118.70" font-size="9.2" textLength="16.80" lengthAdjust="spacingAndGlyphs">0.00</text>
<text x="294.74" y="96.03" font-size="9.2" textLength="16.80" lengthAdjust="spacingAndGlyphs">0.50</text>
<text x="294.19" y="73.35" font-size="9.2" textLength="17.36" lengthAdjust="spacingAndGlyphs">1.00</text>
<text x="294.19" y="50.68" font-size="9.2" textLength="17.36" lengthAdjust="spacingAndGlyphs">1.50</text>
<text x="294.47" y="28.00" font-size="9.2" textLength="17.08" lengthAdjust="spacingAndGlyphs">2.00</text>
<text x="326.72" y="132.50" font-size="9.2" textLength="12.93" lengthAdjust="spacingAndGlyphs">0.2</text>
<text x="351.13" y="132.50" font-size="9.2" textLength="12.93" lengthAdjust="spacingAndGlyphs">0.3</text>
<text x="375.55" y="132.50" font-size="9.2" textLength="12.63" lengthAdjust="spacingAndGlyphs">0.4</text>
<text x="399.95" y="132.50" font-size="9.2" textLength="12.93" lengthAdjust="spacingAndGlyphs">0.5</text>
<text x="424.37" y="132.50" font-size="9.2" textLength="12.63" lengthAdjust="spacingAndGlyphs">0.6</text>
<text x="448.78" y="132.50" font-size="9.2" textLength="12.63" lengthAdjust="spacingAndGlyphs">0.7</text>
<text x="473.18" y="132.50" font-size="9.2" textLength="12.93" lengthAdjust="spacingAndGlyphs">0.8</text>
<text x="497.59" y="132.50" font-size="9.2" textLength="12.93" lengthAdjust="spacingAndGlyphs">0.9</text>
<text x="521.39" y="132.50" font-size="9.2" textLength="13.56" lengthAdjust="spacingAndGlyphs">1.0</text>
<text x="323.42" y="10.10" font-size="8.2" textLength="53.11" lengthAdjust="spacingAndGlyphs">outlet temp 12</text>
<text class="deg" x="378.20" y="10.10" font-size="7.79" textLength="8.17" lengthAdjust="spacingAndGlyphs"><tspan font-family="DejaVu Sans">℃</tspan></text>
<text x="405.73" y="10.10" font-size="8.2" textLength="8.36" lengthAdjust="spacingAndGlyphs">16</text>
<text class="deg" x="416.20" y="10.10" font-size="7.79" textLength="8.17" lengthAdjust="spacingAndGlyphs"><tspan font-family="DejaVu Sans">℃</tspan></text>
<text x="487.94" y="10.10" font-size="8.2" textLength="8.66" lengthAdjust="spacingAndGlyphs">20</text>
<text class="deg" x="498.70" y="10.10" font-size="7.79" textLength="8.17" lengthAdjust="spacingAndGlyphs"><tspan font-family="DejaVu Sans">℃</tspan></text>
<text x="323.45" y="20.80" font-size="8.2" textLength="8.35" lengthAdjust="spacingAndGlyphs">24</text>
<text class="deg" x="333.90" y="20.80" font-size="7.79" textLength="8.17" lengthAdjust="spacingAndGlyphs"><tspan font-family="DejaVu Sans">℃</tspan></text>
<text x="405.84" y="20.80" font-size="8.2" textLength="8.66" lengthAdjust="spacingAndGlyphs">28</text>
<text class="deg" x="414.40" y="20.80" font-size="7.79" textLength="8.17" lengthAdjust="spacingAndGlyphs"><tspan font-family="DejaVu Sans">℃</tspan></text>
<text x="487.63" y="20.80" font-size="8.2" textLength="9.26" lengthAdjust="spacingAndGlyphs">32</text>
<text class="deg" x="498.70" y="20.80" font-size="7.79" textLength="8.17" lengthAdjust="spacingAndGlyphs"><tspan font-family="DejaVu Sans">℃</tspan></text>
<text class="b" x="385.96" y="143.70" font-size="8.8" font-weight="bold" textLength="28.29" lengthAdjust="spacingAndGlyphs">Chiller</text>
<text class="b" x="419.13" y="143.70" font-size="8.8" font-weight="bold" textLength="17.42" lengthAdjust="spacingAndGlyphs">load</text>
<text class="b" x="441.40" y="143.70" font-size="8.8" font-weight="bold" textLength="23.83" lengthAdjust="spacingAndGlyphs">factor</text>
<text class="b" x="469.50" y="143.70" font-size="8.8" font-weight="bold" textLength="8.80" lengthAdjust="spacingAndGlyphs">(-)</text>
<text class="b" x="0" y="0" font-size="8.8" font-weight="bold" textLength="43.06" lengthAdjust="spacingAndGlyphs" transform="translate(289.30,97.46) rotate(-90)">COP ratio</text>
<text class="b" x="0" y="0" font-size="8.8" font-weight="bold" textLength="8.47" lengthAdjust="spacingAndGlyphs" transform="translate(289.30,51.88) rotate(-90)">(-)</text>
<text class="cap" x="333.97" y="162.50" font-size="13.2" textLength="157.61" lengthAdjust="spacingAndGlyphs">(<tspan font-weight="bold">b</tspan>) fixed-speed turbo chiller</text>
<text x="17.95" y="286.20" font-size="9.2" textLength="16.39" lengthAdjust="spacingAndGlyphs">0.00</text>
<text x="17.95" y="275.19" font-size="9.2" textLength="16.39" lengthAdjust="spacingAndGlyphs">0.50</text>
<text x="17.41" y="264.17" font-size="9.2" textLength="16.94" lengthAdjust="spacingAndGlyphs">1.00</text>
<text x="17.41" y="253.16" font-size="9.2" textLength="16.94" lengthAdjust="spacingAndGlyphs">1.50</text>
<text x="17.68" y="242.15" font-size="9.2" textLength="16.66" lengthAdjust="spacingAndGlyphs">2.00</text>
<text x="17.68" y="231.14" font-size="9.2" textLength="16.66" lengthAdjust="spacingAndGlyphs">2.50</text>
<text x="17.68" y="220.12" font-size="9.2" textLength="16.66" lengthAdjust="spacingAndGlyphs">3.00</text>
<text x="17.68" y="209.11" font-size="9.2" textLength="16.66" lengthAdjust="spacingAndGlyphs">3.50</text>
<text x="17.95" y="198.10" font-size="9.2" textLength="16.39" lengthAdjust="spacingAndGlyphs">4.00</text>
<text x="49.72" y="299.70" font-size="9.2" textLength="12.93" lengthAdjust="spacingAndGlyphs">0.2</text>
<text x="73.62" y="299.70" font-size="9.2" textLength="12.93" lengthAdjust="spacingAndGlyphs">0.3</text>
<text x="97.52" y="299.70" font-size="9.2" textLength="12.63" lengthAdjust="spacingAndGlyphs">0.4</text>
<text x="121.42" y="299.70" font-size="9.2" textLength="12.93" lengthAdjust="spacingAndGlyphs">0.5</text>
<text x="145.32" y="299.70" font-size="9.2" textLength="12.63" lengthAdjust="spacingAndGlyphs">0.6</text>
<text x="169.22" y="299.70" font-size="9.2" textLength="12.63" lengthAdjust="spacingAndGlyphs">0.7</text>
<text x="193.12" y="299.70" font-size="9.2" textLength="12.93" lengthAdjust="spacingAndGlyphs">0.8</text>
<text x="217.02" y="299.70" font-size="9.2" textLength="12.93" lengthAdjust="spacingAndGlyphs">0.9</text>
<text x="240.31" y="299.70" font-size="9.2" textLength="13.56" lengthAdjust="spacingAndGlyphs">1.0</text>
<text x="40.62" y="177.80" font-size="8.2" textLength="52.30" lengthAdjust="spacingAndGlyphs">outlet temp 12</text>
<text class="deg" x="94.60" y="177.80" font-size="7.79" textLength="8.17" lengthAdjust="spacingAndGlyphs"><tspan font-family="DejaVu Sans">℃</tspan></text>
<text x="122.50" y="177.80" font-size="8.2" textLength="7.68" lengthAdjust="spacingAndGlyphs">16</text>
<text class="deg" x="132.30" y="177.80" font-size="7.79" textLength="8.17" lengthAdjust="spacingAndGlyphs"><tspan font-family="DejaVu Sans">℃</tspan></text>
<text x="204.46" y="177.80" font-size="8.2" textLength="7.92" lengthAdjust="spacingAndGlyphs">20</text>
<text class="deg" x="214.50" y="177.80" font-size="7.79" textLength="8.17" lengthAdjust="spacingAndGlyphs"><tspan font-family="DejaVu Sans">℃</tspan></text>
<text x="40.65" y="190.30" font-size="8.2" textLength="8.13" lengthAdjust="spacingAndGlyphs">24</text>
<text class="deg" x="50.90" y="190.30" font-size="7.79" textLength="8.17" lengthAdjust="spacingAndGlyphs"><tspan font-family="DejaVu Sans">℃</tspan></text>
<text x="122.98" y="190.30" font-size="8.2" textLength="7.18" lengthAdjust="spacingAndGlyphs">28</text>
<text class="deg" x="132.30" y="190.30" font-size="7.79" textLength="8.17" lengthAdjust="spacingAndGlyphs"><tspan font-family="DejaVu Sans">℃</tspan></text>
<text x="204.18" y="190.30" font-size="8.2" textLength="8.47" lengthAdjust="spacingAndGlyphs">32</text>
<text class="deg" x="214.50" y="190.30" font-size="7.79" textLength="8.17" lengthAdjust="spacingAndGlyphs"><tspan font-family="DejaVu Sans">℃</tspan></text>
<text class="b" x="101.07" y="309.40" font-size="8.8" font-weight="bold" textLength="28.18" lengthAdjust="spacingAndGlyphs">Chiller</text>
<text class="b" x="133.83" y="309.40" font-size="8.8" font-weight="bold" textLength="17.73" lengthAdjust="spacingAndGlyphs">load</text>
<text class="b" x="156.40" y="309.40" font-size="8.8" font-weight="bold" textLength="22.72" lengthAdjust="spacingAndGlyphs">factor</text>
<text class="b" x="183.29" y="309.40" font-size="8.8" font-weight="bold" textLength="9.02" lengthAdjust="spacingAndGlyphs">(-)</text>
<text class="b" x="0" y="0" font-size="8.8" font-weight="bold" textLength="41.63" lengthAdjust="spacingAndGlyphs" transform="translate(12.40,267.24) rotate(-90)">COP ratio</text>
<text class="b" x="0" y="0" font-size="8.8" font-weight="bold" textLength="8.69" lengthAdjust="spacingAndGlyphs" transform="translate(12.40,220.39) rotate(-90)">(-)</text>
<text class="cap" x="33.37" y="337.60" font-size="13.2" textLength="195.91" lengthAdjust="spacingAndGlyphs">(<tspan font-weight="bold">c</tspan>) inverter-controlled turbo chiller</text>
<text x="296.73" y="288.30" font-size="9.2" textLength="17.63" lengthAdjust="spacingAndGlyphs">0.00</text>
<text x="296.73" y="265.60" font-size="9.2" textLength="17.63" lengthAdjust="spacingAndGlyphs">0.50</text>
<text x="296.15" y="242.90" font-size="9.2" textLength="18.22" lengthAdjust="spacingAndGlyphs">1.00</text>
<text x="296.15" y="220.20" font-size="9.2" textLength="18.22" lengthAdjust="spacingAndGlyphs">1.50</text>
<text x="296.44" y="197.50" font-size="9.2" textLength="17.92" lengthAdjust="spacingAndGlyphs">2.00</text>
<text x="329.72" y="302.00" font-size="9.2" textLength="12.93" lengthAdjust="spacingAndGlyphs">0.2</text>
<text x="354.27" y="302.00" font-size="9.2" textLength="12.93" lengthAdjust="spacingAndGlyphs">0.3</text>
<text x="378.83" y="302.00" font-size="9.2" textLength="12.63" lengthAdjust="spacingAndGlyphs">0.4</text>
<text x="403.37" y="302.00" font-size="9.2" textLength="12.93" lengthAdjust="spacingAndGlyphs">0.5</text>
<text x="427.93" y="302.00" font-size="9.2" textLength="12.63" lengthAdjust="spacingAndGlyphs">0.6</text>
<text x="452.48" y="302.00" font-size="9.2" textLength="12.63" lengthAdjust="spacingAndGlyphs">0.7</text>
<text x="477.02" y="302.00" font-size="9.2" textLength="12.93" lengthAdjust="spacingAndGlyphs">0.8</text>
<text x="501.57" y="302.00" font-size="9.2" textLength="12.93" lengthAdjust="spacingAndGlyphs">0.9</text>
<text x="525.51" y="302.00" font-size="9.2" textLength="13.56" lengthAdjust="spacingAndGlyphs">1.0</text>
<text x="322.82" y="176.30" font-size="8.2" textLength="53.44" lengthAdjust="spacingAndGlyphs">outlet temp 20</text>
<text class="deg" x="378.20" y="176.30" font-size="7.79" textLength="8.17" lengthAdjust="spacingAndGlyphs"><tspan font-family="DejaVu Sans">℃</tspan></text>
<text x="406.32" y="176.30" font-size="8.2" textLength="9.17" lengthAdjust="spacingAndGlyphs">22</text>
<text class="deg" x="417.30" y="176.30" font-size="7.79" textLength="8.17" lengthAdjust="spacingAndGlyphs"><tspan font-family="DejaVu Sans">℃</tspan></text>
<text x="490.92" y="176.30" font-size="8.2" textLength="9.09" lengthAdjust="spacingAndGlyphs">24</text>
<text class="deg" x="502.10" y="176.30" font-size="7.79" textLength="8.17" lengthAdjust="spacingAndGlyphs"><tspan font-family="DejaVu Sans">℃</tspan></text>
<text x="322.64" y="189.20" font-size="8.2" textLength="8.45" lengthAdjust="spacingAndGlyphs">26</text>
<text class="deg" x="333.20" y="189.20" font-size="7.79" textLength="8.17" lengthAdjust="spacingAndGlyphs"><tspan font-family="DejaVu Sans">℃</tspan></text>
<text x="406.33" y="189.20" font-size="8.2" textLength="8.87" lengthAdjust="spacingAndGlyphs">28</text>
<text class="deg" x="417.30" y="189.20" font-size="7.79" textLength="8.17" lengthAdjust="spacingAndGlyphs"><tspan font-family="DejaVu Sans">℃</tspan></text>
<text x="490.60" y="189.20" font-size="8.2" textLength="9.82" lengthAdjust="spacingAndGlyphs">30</text>
<text class="deg" x="500.30" y="189.20" font-size="7.79" textLength="8.17" lengthAdjust="spacingAndGlyphs"><tspan font-family="DejaVu Sans">℃</tspan></text>
<text class="b" x="392.96" y="311.50" font-size="8.8" font-weight="bold" textLength="28.59" lengthAdjust="spacingAndGlyphs">Chiller</text>
<text class="b" x="426.11" y="311.50" font-size="8.8" font-weight="bold" textLength="18.55" lengthAdjust="spacingAndGlyphs">load</text>
<text class="b" x="448.20" y="311.50" font-size="8.8" font-weight="bold" textLength="24.74" lengthAdjust="spacingAndGlyphs">factor</text>
<text class="b" x="481.79" y="311.50" font-size="8.8" font-weight="bold" textLength="9.02" lengthAdjust="spacingAndGlyphs">(-)</text>
<text class="b" x="0" y="0" font-size="8.8" font-weight="bold" textLength="43.37" lengthAdjust="spacingAndGlyphs" transform="translate(291.20,267.77) rotate(-90)">COP ratio</text>
<text class="b" x="0" y="0" font-size="8.8" font-weight="bold" textLength="8.25" lengthAdjust="spacingAndGlyphs" transform="translate(291.20,221.87) rotate(-90)">(-)</text>
<text class="cap" x="291.37" y="328.90" font-size="13.2" textLength="244.15" lengthAdjust="spacingAndGlyphs">(<tspan font-weight="bold">d</tspan>) water-cooled chiller using a rotary vane</text>
<text class="cap" x="396.52" y="346.80" font-size="13.2" textLength="34.10" lengthAdjust="spacingAndGlyphs">pump</text>
</g>
</svg>
</body></html>
